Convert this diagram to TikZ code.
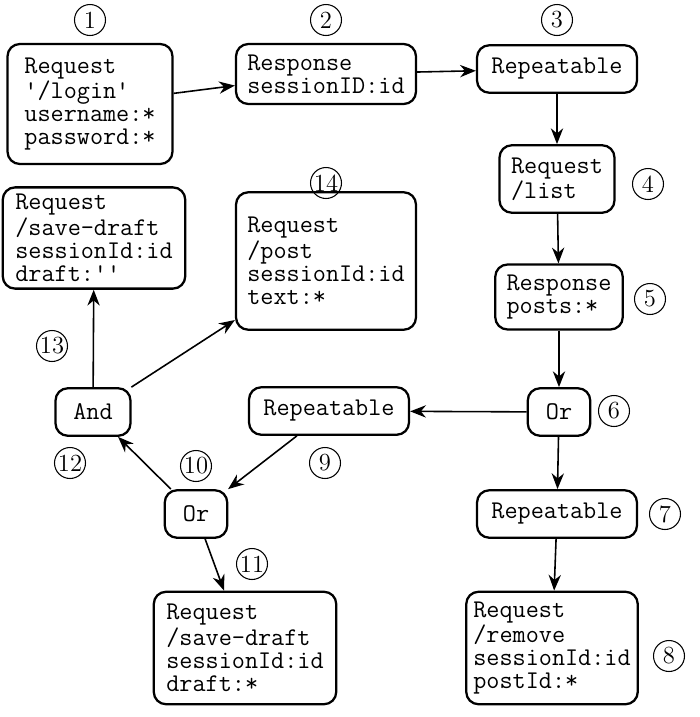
\documentclass[tikz,border=0pt]{standalone}
\usepackage{tikz}
\usetikzlibrary{arrows.meta}
\tikzset{
  box/.style={draw, line width=1.3pt, rounded corners=7pt, align=left,
    font=\fontsize{14.5}{13.2}\selectfont\ttfamily, inner sep=4pt},
  num/.style={draw, circle, line width=0.6pt, minimum size=0.62cm, inner sep=0pt,
    font=\fontsize{14}{14}\selectfont},
  link/.style={line width=0.9pt, -{Stealth[length=9pt,width=7pt]}}
}
\begin{document}
\begin{tikzpicture}[x=0.02cm,y=-0.02cm]
			%%%%% BOXES %%%%%
			\useasboundingbox (0,0) rectangle (700,717);
			
			\node[box, minimum width=3.3cm, minimum height=2.4cm] (req1) at (90,104) {Request\\'/login'\\username:*\\password:*};
			\node[box, minimum width=3.6cm, minimum height=1.2cm] (resp2) at (326,74) {Response\\sessionID:id};
			\node[box, minimum width=3.2cm, minimum height=0.95cm] (rep3) at (557,69) {Repeatable};
			\node[box, minimum width=2.3cm, minimum height=1.35cm] (req4) at (557,179) {Request\\/list};
			\node[box, minimum width=2.55cm, minimum height=1.3cm] (resp5) at (559,297) {Response\\posts:*};
			\node[box, minimum width=1.25cm, minimum height=0.95cm, align=center] (or6) at (559,412) {Or};
			\node[box, minimum width=3.2cm, minimum height=0.95cm] (rep7) at (557,514) {Repeatable};
			\node[box, minimum width=3.4cm, minimum height=2.25cm] (req8) at (552,648) {Request\\/remove\\sessionId:id\\postId:*};
			\node[box, minimum width=3.2cm, minimum height=0.95cm] (rep9) at (329,411) {Repeatable};
			\node[box, minimum width=1.25cm, minimum height=0.95cm, align=center] (or10) at (196,514) {Or};
			\node[box, minimum width=3.65cm, minimum height=2.25cm] (req11) at (245,648) {Request\\/save-draft\\sessionId:id\\draft:*};
			\node[box, minimum width=1.5cm, minimum height=0.95cm, align=center] (and12) at (93,412) {And};
			\node[box, minimum width=3.65cm, minimum height=1.8cm] (req13) at (94,238) {Request\\/save-draft\\sessionId:id\\draft:''};
			\node[box, minimum width=3.6cm, minimum height=2.75cm] (req14) at (326,261) {Request\\/post\\sessionId:id\\text:*};
			
			%%%%% NUMBERS %%%%%
			\node[num] (n1) at (90,20) {1};
			\node[num] (n2) at (326,20) {2};
			\node[num] (n3) at (557,20) {3};
			\node[num] (n4) at (648,184) {4};
			\node[num] (n5) at (650,299) {5};
			\node[num] (n6) at (614,411) {6};
			\node[num] (n7) at (665,514) {7};
			\node[num] (n8) at (669,656) {8};
			\node[num] (n9) at (325,463) {9};
			\node[num] (n10) at (196,466) {10};
			\node[num] (n11) at (252,564) {11};
			\node[num] (n12) at (70,463) {12};
			\node[num] (n13) at (52,346) {13};
			\node[num] (n14) at (326,183) {14};
			
			%%%%% LINKS %%%%%
			\draw[link] (req1) -- (resp2);
			\draw[link] (resp2) -- (rep3);
			\draw[link] (rep3) -- (req4);
			\draw[link] (req4) -- (resp5);
			\draw[link] (resp5) -- (or6);
			\draw[link] (or6) -- (rep9);
			\draw[link] (or6) -- (rep7);
			\draw[link] (rep7) -- (req8);
			\draw[link] (rep9) -- (or10);
			\draw[link] (or10) -- (and12);
			\draw[link] (or10) -- (req11);
			\draw[link] (and12) -- (req13);
			\draw[link] (and12) -- (req14);
\end{tikzpicture}
\end{document}
